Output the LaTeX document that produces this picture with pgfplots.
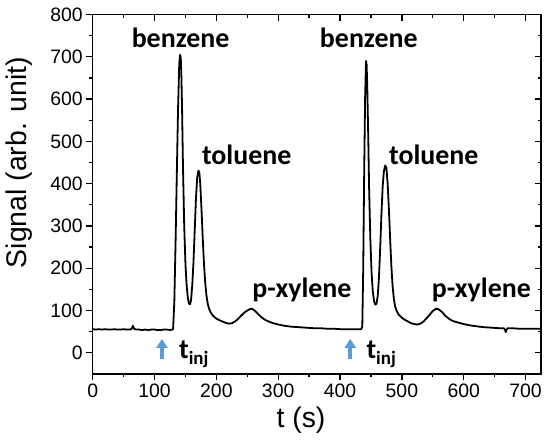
\documentclass[border=0pt]{standalone}
\usepackage{fontspec}
\setmainfont{Liberation Sans}
\newfontfamily\carlito{Carlito}
\usepackage{pgfplots}
\pgfplotsset{compat=1.18}
\usetikzlibrary{arrows.meta}
\definecolor{arrowblue}{HTML}{5B9BD5}
\pgfplotstableread{
t s
0 56
5 55
10 56
15 55
20 56
25 55
30 55
35 56
40 55
45 55
50 56
55 55
60 55
63 57
65 64
67 57
70 55
75 55
80 54
85 55
90 54
95 55
100 55
105 54
110 54
115 55
120 55
125 54
129 55
130 57
132 120
134 260
136 420
138 575
140 685
141.5 705
142.5 695
143.5 650
144.5 580
146 440
148 300
150 210
152 158
154 128
156 116
157.5 115
159 124
161 160
163 215
165 290
167 365
169 415
171 431
172.5 426
174 398
176 338
178 270
180 210
182 165
184 135
186 117
188 105
191 95
195 87
200 81
205 77
210 74
215 71
220 69
225 70
230 74
235 80
240 88
245 95
250 100
255 104
258 104
262 100
266 94
270 88
275 82
280 77
285 74
290 71
300 67
310 64
320 62
330 61
340 60
350 59
360 58
370 58
380 57
390 57
400 56
410 56
420 56
430 56
434 56
436 62
437.5 200
439 420
440.5 600
442 690
443 682
444 630
445.5 520
447 390
449 270
451 190
453 145
455 122
457 114
459 116
461 135
463 180
465 250
467 330
469 395
471 430
473 443
475 437
477 400
479 340
481 270
483 205
485 158
487 128
489 110
492 98
495 90
500 83
505 78
510 74
515 70
520 68
525 67
530 69
535 74
540 82
545 90
550 99
555 104
558 104
562 100
566 95
570 88
575 82
580 77
585 74
590 72
600 68
610 65
620 63
630 61
640 60
650 59
660 58
665 58
667 54
668 49
669 54
671 58
680 58
690 57
700 57
710 57
720 57
725 57
}\datatable
\begin{document}
\begin{tikzpicture}
\begin{axis}[
  scale only axis, width=448.3bp, height=359.5bp,
  xmin=0, xmax=725, ymin=-50, ymax=800,
  xtick={0,100,...,700}, ytick={0,100,...,800},
  minor x tick num=1, minor y tick num=1,
  xtick pos=bottom, ytick pos=left,
  tick align=outside,
  major tick length=6.5bp, minor tick length=3.5bp,
  axis line style={line width=1.4bp},
  every tick/.style={line width=1.3bp, black},
  /pgf/number format/assume math mode=true,
  tick label style={font=\fontsize{19.5}{20}\selectfont},
  xlabel={t (s)}, ylabel={Signal (arb. unit)},
  label style={font=\fontsize{28.5}{30}\selectfont},
  xlabel style={at={(rel axis cs:0.4647,-0.128)}, anchor=center},
  ylabel style={at={(rel axis cs:-0.1644,0.588)}, anchor=center},
  clip=false,
]
\addplot[black, line width=1.8bp, line join=round] table[x=t,y=s] {\datatable};
\coordinate (bl) at (rel axis cs:0,0);
\coordinate (tr) at (rel axis cs:1,1);
\begin{scope}[font=\carlito\bfseries\fontsize{28}{28}\selectfont]
\node[anchor=base] at (axis cs:142.1,723) {benzene};
\node[anchor=base] at (axis cs:446.5,723) {benzene};
\node[anchor=base] at (axis cs:249,446) {toluene};
\node[anchor=base] at (axis cs:551.6,446) {toluene};
\node[anchor=base] at (axis cs:338.4,131.6) {p-xylene};
\node[anchor=base] at (axis cs:628.5,131.6) {p-xylene};
\node[anchor=base west, inner sep=0pt] at (axis cs:139.5,-13) {t\raisebox{-6bp}{\fontsize{19}{19}\selectfont inj}};
\node[anchor=base west, inner sep=0pt] at (axis cs:442.5,-13) {t\raisebox{-6bp}{\fontsize{19}{19}\selectfont inj}};
\end{scope}
\draw[arrowblue, line width=4bp, -{Triangle[width=11bp,length=9bp]}] (axis cs:112,-14) -- (axis cs:112,33);
\draw[arrowblue, line width=4bp, -{Triangle[width=11bp,length=9bp]}] (axis cs:416.5,-14) -- (axis cs:416.5,33);
\end{axis}
\begin{axis}[
  scale only axis, width=448.3bp, height=359.5bp,
  xmin=0, xmax=725, ymin=-50, ymax=800,
  xtick={0,100,...,700}, ytick={0,100,...,800},
  minor x tick num=1, minor y tick num=1,
  xtick pos=top, ytick pos=right,
  tick align=inside,
  major tick length=6.5bp, minor tick length=3.5bp,
  axis line style={line width=1.4bp},
  every tick/.style={line width=1.3bp, black},
  xticklabels={}, yticklabels={},
]
\end{axis}
\pgfresetboundingbox
\path[use as bounding box] ([shift={(-92.7bp,-71bp)}]bl) rectangle ([shift={(9bp,14.5bp)}]tr);
\end{tikzpicture}
\end{document}
